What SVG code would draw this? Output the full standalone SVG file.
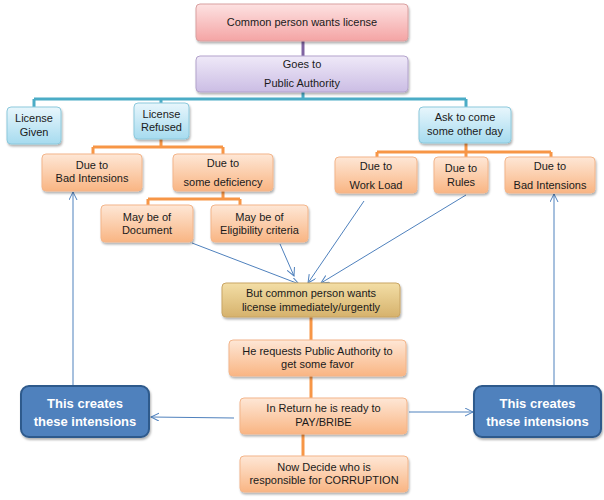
<svg xmlns="http://www.w3.org/2000/svg" width="604" height="500" viewBox="0 0 604 500">
<defs>
<linearGradient id="gPink" x1="0" y1="0" x2="0" y2="1"><stop offset="0" stop-color="#fde2e2"/><stop offset="1" stop-color="#f4a4a4"/></linearGradient>
<linearGradient id="gPurple" x1="0" y1="0" x2="0" y2="1"><stop offset="0" stop-color="#efe9f8"/><stop offset="1" stop-color="#cbbde4"/></linearGradient>
<linearGradient id="gCyan" x1="0" y1="0" x2="0" y2="1"><stop offset="0" stop-color="#e8f6fc"/><stop offset="1" stop-color="#a6dbef"/></linearGradient>
<linearGradient id="gOrange" x1="0" y1="0" x2="0" y2="1"><stop offset="0" stop-color="#fee7d6"/><stop offset="1" stop-color="#f9b583"/></linearGradient>
<linearGradient id="gTan" x1="0" y1="0" x2="0" y2="1"><stop offset="0" stop-color="#f3dea6"/><stop offset="1" stop-color="#d6b26c"/></linearGradient>
<filter id="sh" x="-10%" y="-10%" width="125%" height="140%"><feDropShadow dx="1" dy="2" stdDeviation="1.2" flood-color="#000" flood-opacity="0.3"/></filter>
<marker id="arr" markerWidth="10" markerHeight="10" refX="8" refY="4" orient="auto" markerUnits="userSpaceOnUse"><path d="M0,0 L8,4 L0,8" fill="none" stroke="#4f81bd" stroke-width="1"/></marker>
</defs>
<style>
text{font-family:"Liberation Sans",Arial,sans-serif;font-size:11px;fill:#1a1a1a;text-anchor:middle}
.w{fill:#ffffff;font-weight:bold;font-size:13px}
.pink{fill:url(#gPink);stroke:#d9a0a0;stroke-width:1;filter:url(#sh)}
.purple{fill:url(#gPurple);stroke:#b3a3cc;stroke-width:1;filter:url(#sh)}
.cyan{fill:url(#gCyan);stroke:#8cc9dc;stroke-width:1;filter:url(#sh)}
.orange{fill:url(#gOrange);stroke:#f3b58a;stroke-width:1;filter:url(#sh)}
.tan{fill:url(#gTan);stroke:#c9a565;stroke-width:1;filter:url(#sh)}
.dark{fill:#4f81bd;stroke:#2f5a8c;stroke-width:2;filter:url(#sh)}
.cb{fill:none;stroke:#4bacc6;stroke-width:3}
.co{fill:none;stroke:#f79646;stroke-width:3}
.cp{fill:none;stroke:#8064a2;stroke-width:3}
.ca{fill:none;stroke:#4f81bd;stroke-width:1;marker-end:url(#arr)}
</style>
<rect width="604" height="500" fill="#ffffff"/>
<g id="connectors">
<path class="cp" d="M303,41 V56"/>
<path class="cb" d="M303,92 V99 M34,99 H466 M34,99 V107 M161,99 V103 M466,99 V107"/>
<path class="co" d="M161,139 V147 M93,147 H223 M93,147 V154 M223,147 V154"/>
<path class="co" d="M466,143 V157 M377,152 H551 M377,152 V157 M551,152 V157"/>
<path class="co" d="M223,191 V199 M148,199 H240 M148,199 V205 M240,199 V205"/>
<path class="co" d="M311,317 V340 M311,376 V398 M303,434 V456"/>
<path class="ca" d="M192,243 L299,284"/>
<path class="ca" d="M280,244 L294,276"/>
<path class="ca" d="M364,201 L308,283"/>
<path class="ca" d="M466,195 L321,283"/>
<path class="ca" d="M73,386 V192"/>
<path class="ca" d="M554,386 V194"/>
<path class="ca" d="M234,418 L151,417"/>
<path class="ca" d="M409,412 H473"/>
</g>
<g id="n-start"><rect class="pink" x="196" y="4" width="212" height="37" rx="4"/><text x="302" y="26">Common person wants license</text></g>
<g id="n-goes"><rect class="purple" x="196" y="56" width="212" height="36" rx="4"/><text x="302" y="68">Goes to</text><text x="302" y="87">Public Authority</text></g>
<g id="n-given"><rect class="cyan" x="7" y="107" width="54" height="37" rx="4"/><text x="34" y="122">License</text><text x="34" y="136">Given</text></g>
<g id="n-refused"><rect class="cyan" x="134" y="103" width="55" height="36" rx="4"/><text x="161.5" y="118">License</text><text x="161.5" y="131">Refused</text></g>
<g id="n-ask"><rect class="cyan" x="419" y="107" width="92" height="36" rx="4"/><text x="465" y="121">Ask to come</text><text x="465" y="135">some other day</text></g>
<g id="n-bad1"><rect class="orange" x="42" y="154" width="100" height="37" rx="4"/><text x="92" y="169">Due to</text><text x="92" y="182">Bad Intensions</text></g>
<g id="n-def"><rect class="orange" x="173" y="154" width="100" height="37" rx="4"/><text x="223" y="167">Due to</text><text x="223" y="186">some deficiency</text></g>
<g id="n-work"><rect class="orange" x="335" y="157" width="82" height="36" rx="4"/><text x="376" y="170">Due to</text><text x="376" y="189">Work Load</text></g>
<g id="n-rules"><rect class="orange" x="434" y="157" width="54" height="36" rx="4"/><text x="461" y="172">Due to</text><text x="461" y="186">Rules</text></g>
<g id="n-bad2"><rect class="orange" x="505" y="157" width="90" height="36" rx="4"/><text x="550" y="170">Due to</text><text x="550" y="189">Bad Intensions</text></g>
<g id="n-doc"><rect class="orange" x="101" y="205" width="92" height="37" rx="4"/><text x="147" y="221">May be of</text><text x="147" y="234">Document</text></g>
<g id="n-elig"><rect class="orange" x="211" y="205" width="97" height="37" rx="4"/><text x="259.5" y="221">May be of</text><text x="259.5" y="234">Eligibility criteria</text></g>
<g id="n-urgent"><rect class="tan" x="222" y="283" width="178" height="34" rx="4"/><text x="311" y="297">But common person wants</text><text x="311" y="311">license immediately/urgently</text></g>
<g id="n-request"><rect class="orange" x="229" y="340" width="177" height="36" rx="4"/><text x="317.5" y="355">He requests Public Authority to</text><text x="317.5" y="368">get some favor</text></g>
<g id="n-pay"><rect class="orange" x="240" y="398" width="167" height="36" rx="4"/><text x="323.5" y="412">In Return he is ready to</text><text x="323.5" y="426">PAY/BRIBE</text></g>
<g id="n-decide"><rect class="orange" x="240" y="456" width="168" height="36" rx="4"/><text x="324" y="471">Now Decide who is</text><text x="324" y="484">responsible for CORRUPTION</text></g>
<g id="n-creates1"><rect class="dark" x="21" y="386" width="128" height="51" rx="8"/><text class="w" x="85" y="408">This creates</text><text class="w" x="85" y="426">these intensions</text></g>
<g id="n-creates2"><rect class="dark" x="474" y="386" width="127" height="51" rx="8"/><text class="w" x="537.5" y="408">This creates</text><text class="w" x="537.5" y="426">these intensions</text></g>
</svg>
